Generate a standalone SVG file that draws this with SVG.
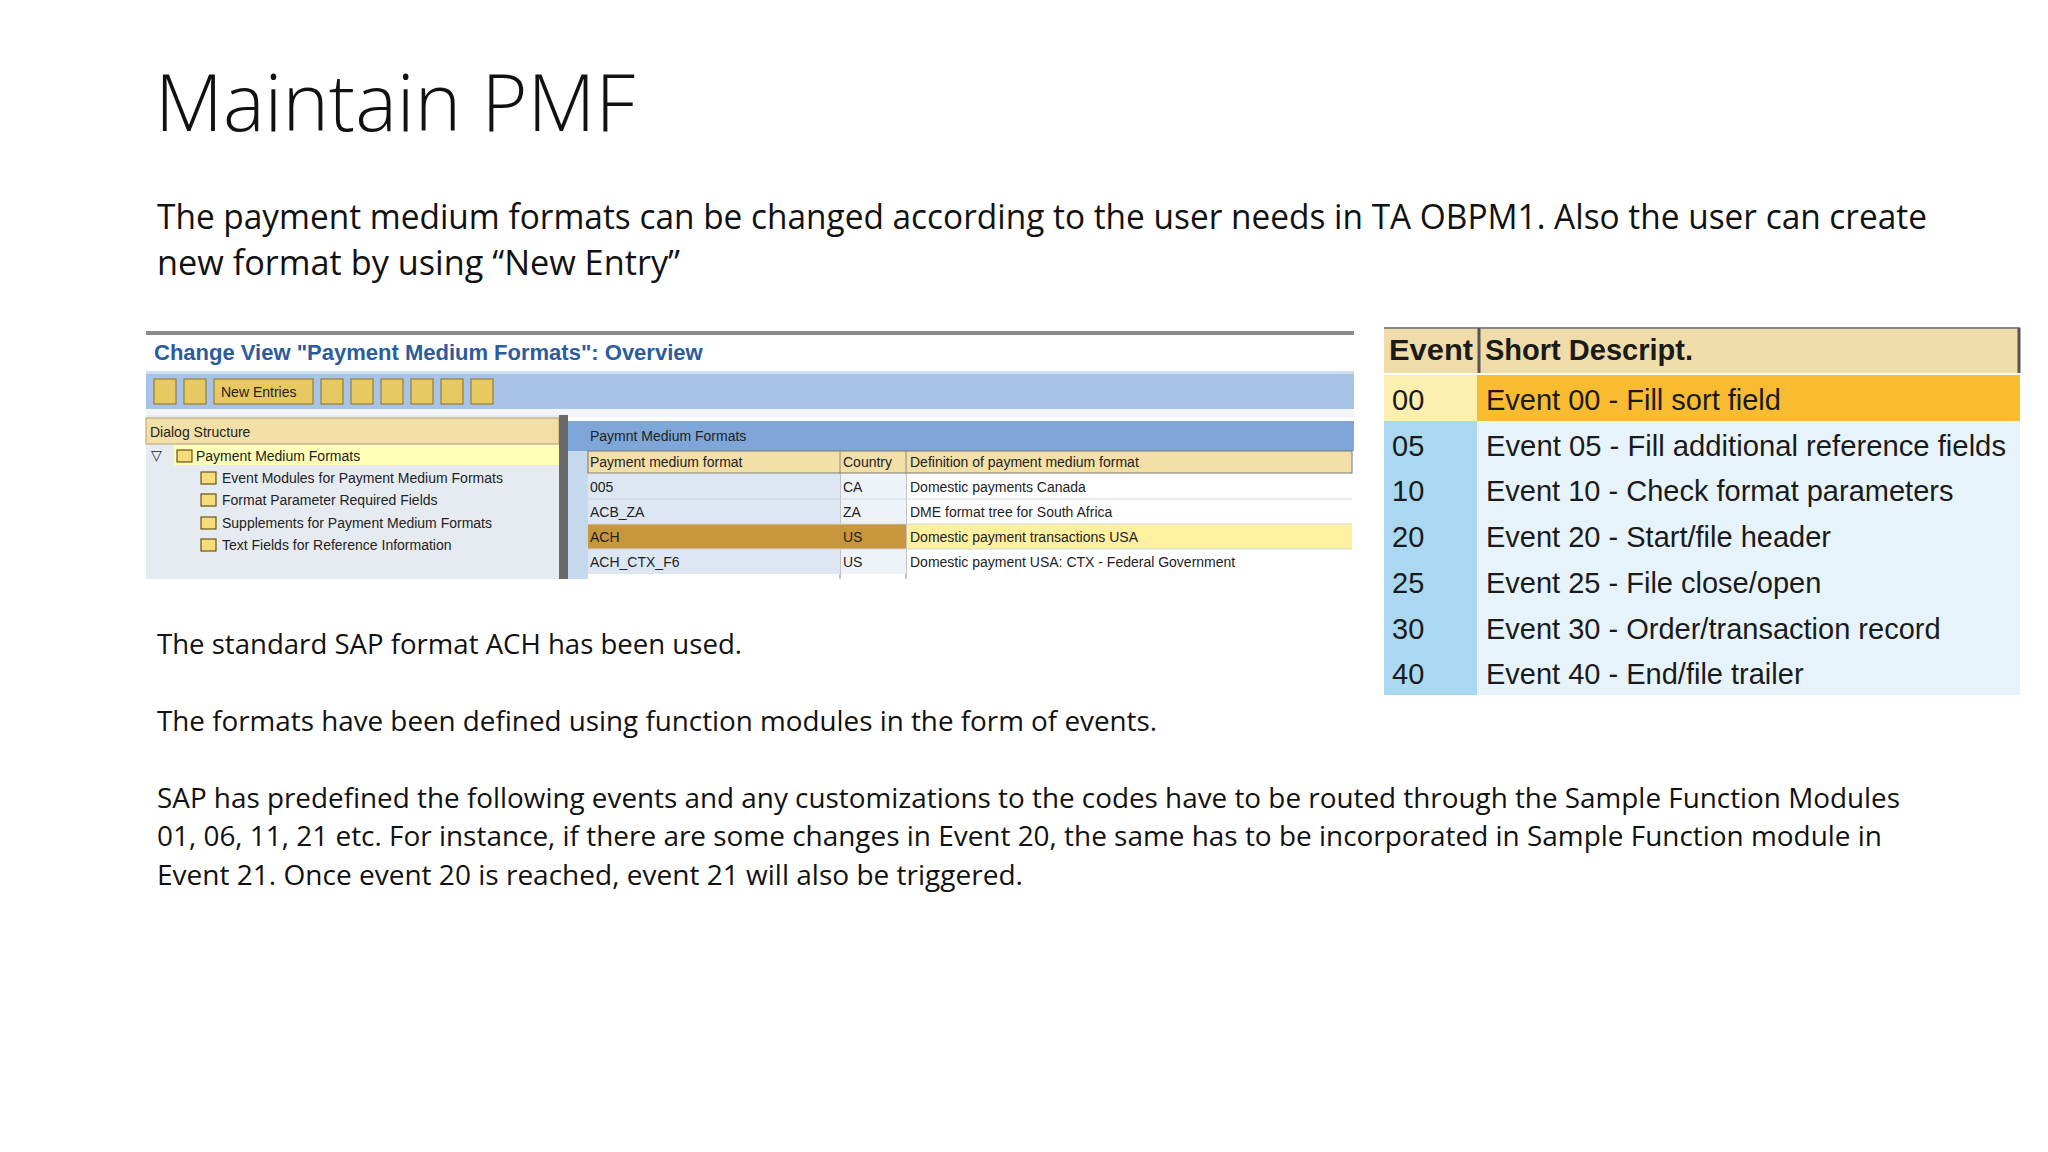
<svg xmlns="http://www.w3.org/2000/svg" width="2048" height="1152" viewBox="0 0 2048 1152">
<style>
.b{font-family:"Open Sans","Liberation Sans",sans-serif;fill:#111}
.s{font-family:"Liberation Sans",Arial,sans-serif;font-size:14px;fill:#222}
.t{font-family:"Liberation Sans",Arial,sans-serif;font-size:29px;fill:#1a1a1a}
.ic{fill:#e8c860;stroke:#8a7020;stroke-width:1}
.fd{fill:#f6dc7a;stroke:#6a5418;stroke-width:1.2}
</style>
<rect width="2048" height="1152" fill="#fff"/>
<g id="title"><text class="b" x="155" y="131" font-size="80" font-weight="300" textLength="480" lengthAdjust="spacingAndGlyphs">Maintain PMF</text></g>
<g id="intro">
<text class="b" x="157" y="229" font-size="34" textLength="1770" lengthAdjust="spacingAndGlyphs">The payment medium formats can be changed according to the user needs in TA OBPM1. Also the user can create</text>
<text class="b" x="157" y="275" font-size="34" textLength="523" lengthAdjust="spacingAndGlyphs">new format by using “New Entry”</text>
</g>
<g id="sap-screen">
<rect x="146" y="331" width="1208" height="4" fill="#8a8a8a"/>
<text x="154" y="360" font-family="Liberation Sans,Arial,sans-serif" font-size="22" font-weight="bold" fill="#2b5c9c">Change View "Payment Medium Formats": Overview</text>
<rect x="146" y="371" width="1208" height="38" fill="#a7c4e6"/>
<rect x="146" y="371" width="1208" height="3" fill="#cfdff0"/>
<rect x="154" y="379" width="22" height="25" class="ic"/><rect x="184" y="379" width="22" height="25" class="ic"/>
<rect x="214" y="379" width="99" height="25" class="ic"/>
<text x="221" y="397" class="s" font-size="14">New Entries</text>
<rect x="321" y="379" width="22" height="25" class="ic"/><rect x="351" y="379" width="22" height="25" class="ic"/><rect x="381" y="379" width="22" height="25" class="ic"/><rect x="411" y="379" width="22" height="25" class="ic"/><rect x="441" y="379" width="22" height="25" class="ic"/><rect x="471" y="379" width="22" height="25" class="ic"/>
<rect x="146" y="409" width="1208" height="8" fill="#f2f4f7"/>
<rect x="146" y="415" width="413" height="164" fill="#e6ebf1"/>
<rect x="146" y="418" width="413" height="26" fill="#f3dfa8" stroke="#b5a06a"/>
<text x="150" y="437" class="s">Dialog Structure</text>
<rect x="174" y="445" width="385" height="20" fill="#ffffb8"/>
<text x="151" y="460" class="s" fill="#888">▽</text>
<rect x="177" y="450" width="15" height="12" class="fd"/>
<text x="196" y="461" class="s">Payment Medium Formats</text>
<rect x="201" y="472" width="15" height="12" class="fd"/><text x="222" y="483" class="s">Event Modules for Payment Medium Formats</text>
<rect x="201" y="494" width="15" height="12" class="fd"/><text x="222" y="505" class="s">Format Parameter Required Fields</text>
<rect x="201" y="517" width="15" height="12" class="fd"/><text x="222" y="528" class="s">Supplements for Payment Medium Formats</text>
<rect x="201" y="539" width="15" height="12" class="fd"/><text x="222" y="550" class="s">Text Fields for Reference Information</text>
<rect x="559" y="415" width="9" height="164" fill="#6a6a6a"/>
<rect x="568" y="421" width="786" height="30" fill="#7ea6d8"/>
<text x="590" y="441" class="s">Paymnt Medium Formats</text>
<rect x="568" y="451" width="20" height="128" fill="#c6d8ec"/>
<rect x="588" y="451" width="764" height="22" fill="#f3dfa8" stroke="#777"/>
<line x1="840" y1="451" x2="840" y2="579" stroke="#888"/><line x1="906" y1="451" x2="906" y2="579" stroke="#888"/>
<text x="590" y="467" class="s" fill="#4a63b5">Payment medium format</text>
<text x="843" y="467" class="s">Country</text>
<text x="910" y="467" class="s">Definition of payment medium format</text>
<rect x="588" y="474" width="252" height="100" fill="#dce7f3"/>
<rect x="841" y="474" width="65" height="100" fill="#eef3f9"/>
<rect x="907" y="474" width="445" height="100" fill="#fff"/>
<rect x="588" y="524" width="318" height="25" fill="#c8963c"/>
<rect x="907" y="524" width="445" height="25" fill="#fff0a0"/>
<line x1="588" y1="499" x2="1352" y2="499" stroke="#d0d8e0"/><line x1="588" y1="524" x2="1352" y2="524" stroke="#d0d8e0"/><line x1="588" y1="549" x2="1352" y2="549" stroke="#d0d8e0"/>
<text x="590" y="492" class="s">005</text><text x="843" y="492" class="s">CA</text><text x="910" y="492" class="s">Domestic payments Canada</text>
<text x="590" y="517" class="s">ACB_ZA</text><text x="843" y="517" class="s">ZA</text><text x="910" y="517" class="s">DME format tree for South Africa</text>
<text x="590" y="542" class="s" fill="#fff">ACH</text><text x="843" y="542" class="s" fill="#fff">US</text><text x="910" y="542" class="s">Domestic payment transactions USA</text>
<text x="590" y="567" class="s">ACH_CTX_F6</text><text x="843" y="567" class="s">US</text><text x="910" y="567" class="s">Domestic payment USA: CTX - Federal Government</text>
</g>
<g id="event-table">
<rect x="1384" y="375" width="93" height="320" fill="#a9d8f0"/>
<rect x="1477" y="375" width="543" height="320" fill="#e7f3fa"/>
<rect x="1384" y="329" width="636" height="44" fill="#f0dca8"/>
<line x1="1384" y1="328" x2="2020" y2="328" stroke="#888" stroke-width="2"/>
<line x1="1479" y1="328" x2="1479" y2="373" stroke="#555" stroke-width="3"/>
<line x1="2019" y1="328" x2="2019" y2="373" stroke="#555" stroke-width="3"/>
<text x="1389" y="360" class="t" font-weight="bold" font-size="28" textLength="84" lengthAdjust="spacingAndGlyphs">Event</text>
<text x="1485" y="360" class="t" font-weight="bold" font-size="28" textLength="208" lengthAdjust="spacingAndGlyphs">Short Descript.</text>
<rect x="1384" y="375" width="93" height="46" fill="#fdefb0"/>
<rect x="1477" y="375" width="543" height="46" fill="#f9bb30"/>
<text x="1392" y="410" class="t">00</text><text x="1486" y="410" class="t">Event 00 - Fill sort field</text>
<text x="1392" y="456" class="t">05</text><text x="1486" y="456" class="t" textLength="520" lengthAdjust="spacingAndGlyphs">Event 05 - Fill additional reference fields</text>
<text x="1392" y="501" class="t">10</text><text x="1486" y="501" class="t">Event 10 - Check format parameters</text>
<text x="1392" y="547" class="t">20</text><text x="1486" y="547" class="t">Event 20 - Start/file header</text>
<text x="1392" y="593" class="t">25</text><text x="1486" y="593" class="t">Event 25 - File close/open</text>
<text x="1392" y="639" class="t">30</text><text x="1486" y="639" class="t">Event 30 - Order/transaction record</text>
<text x="1392" y="684" class="t">40</text><text x="1486" y="684" class="t">Event 40 - End/file trailer</text>
</g>
<g id="notes">
<text class="b" x="157" y="654" font-size="28" textLength="585" lengthAdjust="spacingAndGlyphs">The standard SAP format ACH has been used.</text>
<text class="b" x="157" y="731" font-size="28" textLength="1000" lengthAdjust="spacingAndGlyphs">The formats have been defined using function modules in the form of events.</text>
<text class="b" x="157" y="808" font-size="28" textLength="1743" lengthAdjust="spacingAndGlyphs">SAP has predefined the following events and any customizations to the codes have to be routed through the Sample Function Modules</text>
<text class="b" x="157" y="846" font-size="28" textLength="1725" lengthAdjust="spacingAndGlyphs">01, 06, 11, 21 etc. For instance, if there are some changes in Event 20, the same has to be incorporated in Sample Function module in</text>
<text class="b" x="157" y="885" font-size="28" textLength="866" lengthAdjust="spacingAndGlyphs">Event 21. Once event 20 is reached, event 21 will also be triggered.</text>
</g>
</svg>
